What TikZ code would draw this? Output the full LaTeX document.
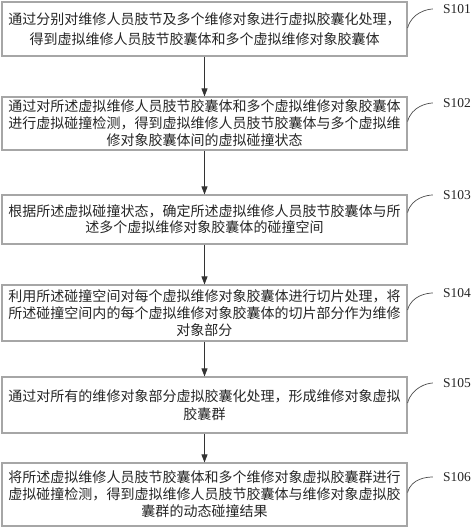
\documentclass[tikz,border=0pt]{standalone}
\usepackage{fontspec}
\setmainfont{Liberation Serif}
\newfontfamily\cjk{Noto Sans CJK SC}
\usetikzlibrary{arrows.meta}
\begin{document}
\begin{tikzpicture}[x=1pt,y=-1pt,
  stepbox/.style={draw=gray!70, line width=1.1pt, minimum width=405pt, inner sep=0pt,
    align=center, text=black!85},
  cjk14/.style={font=\cjk\fontsize{14}{#1}\selectfont},
  steplabel/.style={font=\fontsize{13.5}{16}\selectfont, inner sep=0pt, text=black!85},
  flow/.style={draw=black!80, line width=0.8pt, -{Triangle[width=6pt,length=8pt]}},
  lead/.style={draw=black!70, line width=0.7pt, shorten >=10pt}]
\useasboundingbox (0,0) rectangle (474,527);

\node[stepbox, cjk14=20, minimum height=54pt] (b1) at (204.5,29)
  {通过分别对维修人员肢节及多个维修对象进行虚拟胶囊化处理，\\得到虚拟维修人员肢节胶囊体和多个虚拟维修对象胶囊体};
\node[stepbox, cjk14=17, minimum height=53pt] (b2) at (204.5,123.5)
  {通过对所述虚拟维修人员肢节胶囊体和多个虚拟维修对象胶囊体\\进行虚拟碰撞检测，得到虚拟维修人员肢节胶囊体与多个虚拟维\\修对象胶囊体间的虚拟碰撞状态};
\node[stepbox, cjk14=16, minimum height=49pt] (b3) at (204.5,219.5)
  {根据所述虚拟碰撞状态，确定所述虚拟维修人员肢节胶囊体与所\\述多个虚拟维修对象胶囊体的碰撞空间};
\node[stepbox, cjk14=17, minimum height=56pt] (b4) at (204.5,313)
  {利用所述碰撞空间对每个虚拟维修对象胶囊体进行切片处理，将\\所述碰撞空间内的每个虚拟维修对象胶囊体的切片部分作为维修\\对象部分};
\node[stepbox, cjk14=18, minimum height=56pt] (b5) at (204.5,405)
  {通过对所有的维修对象部分虚拟胶囊化处理，形成维修对象虚拟\\胶囊群};
\node[stepbox, cjk14=17, minimum height=63pt] (b6) at (204.5,494.5)
  {将所述虚拟维修人员肢节胶囊体和多个维修对象虚拟胶囊群进行\\虚拟碰撞检测，得到虚拟维修人员肢节胶囊体与维修对象虚拟胶\\囊群的动态碰撞结果};

\node[steplabel] (l1) at (457,9) {S101};
\node[steplabel] (l2) at (457,103) {S102};
\node[steplabel] (l3) at (457,195) {S103};
\node[steplabel] (l4) at (457,293) {S104};
\node[steplabel] (l5) at (457,383) {S105};
\node[steplabel] (l6) at (457,477) {S106};

\draw[flow] (b1) -- (b2);
\draw[flow] (b2) -- (b3);
\draw[flow] (b3) -- (b4);
\draw[flow] (b4) -- (b5);
\draw[flow] (b5) -- (b6);

\draw[lead] ([yshift=1pt]b1.east) to[out=75,in=180] (l1.west);
\draw[lead] ([yshift=2pt]b2.east) to[out=75,in=180] (l2.west);
\draw[lead] ([yshift=7pt]b3.east) to[out=75,in=180] (l3.west);
\draw[lead] ([yshift=3pt]b4.east) to[out=75,in=180] (l4.west);
\draw[lead] ([yshift=2pt]b5.east) to[out=75,in=180] (l5.west);
\draw[lead] ([yshift=2pt]b6.east) to[out=75,in=180] (l6.west);
\end{tikzpicture}
\end{document}
